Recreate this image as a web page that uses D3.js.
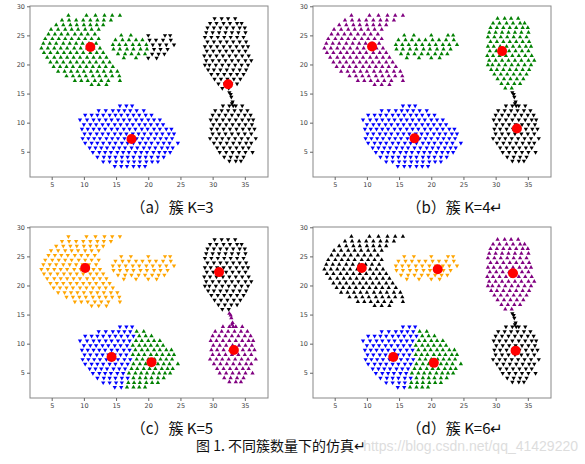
<!DOCTYPE html><html><head><meta charset="utf-8">
<script src="https://cdn.jsdelivr.net/npm/d3@7"></script>
<style>body{margin:0;background:#fff}</style></head><body><svg id="c" width="585" height="464"></svg>
<script>
// rows: [y, x1, x2, ...]
const bottomBlob=[[12.9,15.6,16.6,17.5],[12.1,12.3,13.4,14.5,15.4,16.3,17.2,18.2,19.3],[11.3,10.2,11.2,12.1,13.0,14.0,14.9,15.8,16.8,17.7,18.6,19.6,20.5],[10.5,9.4,10.5,11.5,12.4,13.4,14.3,15.3,16.2,17.1,18.1,19.0,20.0,20.9,21.8],[9.7,10.0,11.0,11.9,12.9,13.8,14.8,15.7,16.7,17.6,18.6,19.5,20.4,21.4,22.3],[8.9,9.7,10.6,11.5,12.4,13.3,14.3,15.2,16.2,17.1,18.0,19.0,19.9,20.9,21.8,22.8,23.6],[8.1,10.1,11.0,12.0,12.9,13.8,14.8,15.7,16.6,17.6,18.5,19.4,20.4,21.3,22.2,23.2,24.0],[7.3,9.8,10.7,11.6,12.5,13.5,14.4,15.3,16.3,17.2,18.2,19.1,20.0,21.0,21.9,22.8,23.7],[6.5,10.2,11.2,12.1,13.0,14.0,14.9,15.9,16.8,17.7,18.7,19.6,20.5,21.5,22.4,23.3,24.6],[5.7,10.9,11.8,12.7,13.6,14.6,15.5,16.4,17.4,18.3,19.3,20.2,21.1,22.1,23.0,23.8],[4.9,11.4,12.4,13.3,14.2,15.2,16.1,17.0,18.0,18.9,19.8,20.8,21.7,22.6,23.4],[4.1,12.1,13.1,14.0,14.9,15.9,16.8,17.7,18.7,19.6,20.5,21.5,22.4],[3.3,13.0,14.0,15.0,15.9,16.9,17.8,18.7,19.7,20.6,21.5],[2.5,14.8,15.8,16.7,17.7,18.6,19.5]];
const topLeft=[[28.4,7.6,10.4,11.8,13.2,14.4,15.6],[27.6,6.6,7.7,8.8,9.9,11.0,12.1,13.1,14.2],[26.8,5.7,6.8,7.9,8.9,10.0,11.0,12.0,13.0],[26.0,4.9,6.0,7.1,8.1,9.1,10.2,11.2,12.3],[25.2,4.5,5.5,6.5,7.5,8.6,9.6,10.6,11.7],[24.4,4.0,5.1,6.1,7.1,8.1,9.2,10.2,11.2,12.3],[23.6,3.7,4.7,5.7,6.8,7.8,8.8,9.8,10.8,11.9],[22.8,3.4,4.4,5.4,6.4,7.4,8.5,9.5,10.5,11.5,12.5],[22.0,3.8,4.8,5.9,6.9,7.9,8.9,9.9,11.0,12.0,13.0],[21.2,4.3,5.4,6.4,7.4,8.4,9.4,10.5,11.5,12.5,13.5],[20.4,4.8,5.8,6.8,7.9,8.9,9.9,10.9,11.9,13.0,14.0],[19.6,5.3,6.3,7.3,8.3,9.4,10.4,11.4,12.4,13.4,14.5],[18.8,6.0,7.0,8.0,9.0,10.0,11.1,12.1,13.1,14.2,15.2],[18.0,7.3,8.3,9.3,10.3,11.4,12.4,13.4,14.4,15.5],[17.2,8.6,9.6,10.6,11.7,12.7,13.8,15.6],[16.5,11.2,12.3,13.5]];
const smallBlob=[[25.0,15.8,17.3,20.0,22.6,23.4],[24.2,14.9,16.0,17.0,18.1,19.1,20.2,21.2,22.3,23.5],[23.4,14.5,15.5,16.5,17.6,18.6,19.7,20.7,21.8,22.8,24.0],[22.6,14.6,15.6,16.7,17.7,18.8,19.8,20.9,21.9,23.0],[21.8,15.3,16.4,17.4,18.5,19.5,20.6,21.6,22.5],[21.1,16.2,18.1,20.0,21.3]];
const topRight=[[27.9,30.3,31.4,32.4,33.5],[27.1,29.6,30.6,31.7,32.7,33.8,34.5],[26.3,29.2,30.2,31.2,32.2,33.2,34.2,35.0],[25.5,29.0,30.0,31.0,32.0,33.0,34.0,35.1],[24.7,28.8,29.8,30.8,31.8,32.8,33.8,34.8],[23.9,29.2,30.2,31.2,32.2,33.2,34.2,35.2],[23.1,28.8,29.7,30.7,31.7,32.7,33.7,34.7,35.5],[22.3,29.1,30.1,31.1,32.1,33.1,34.1,35.1],[21.5,28.7,29.6,30.6,31.6,32.6,33.6,34.6,35.6],[20.7,29.0,30.0,31.0,32.0,33.0,34.0,35.1,36.0],[19.9,28.8,29.5,30.5,31.5,32.5,33.5,34.5,35.5],[19.1,29.3,30.2,31.2,32.2,33.2,34.2,35.2],[18.3,29.8,30.8,31.8,32.8,33.8,34.8],[17.5,30.3,31.3,32.3,33.3,34.3],[16.7,30.9,31.9,32.9,33.8],[15.9,31.5,32.5]];
const bridge=[[15.2,32.6],[14.9,32.8],[14.4,32.9],[13.6,33.1],[13.3,33.0],[12.9,33.2]];
const bottomRight=[[12.9,31.6,32.6,33.6,34.6],[12.1,30.4,31.4,32.4,33.4,34.4,35.4],[11.3,30.0,31.0,32.0,33.0,34.0,35.0,35.9],[10.5,29.7,30.6,31.6,32.6,33.6,34.6,35.6,36.3],[9.7,30.1,31.1,32.1,33.1,34.1,35.1,36.1],[8.9,29.8,30.7,31.7,32.7,33.7,34.7,35.7,36.5],[8.1,30.0,31.0,32.0,33.0,34.0,35.0,36.0],[7.3,29.6,30.6,31.5,32.5,33.5,34.5,35.5,36.7],[6.5,30.2,31.2,32.2,33.2,34.2,35.2,36.0],[5.7,30.7,31.7,32.7,33.7,34.7,35.6],[4.9,31.1,32.1,33.1,34.1,35.1,36.2],[4.1,31.8,32.8,33.8,34.8],[3.4,32.6,33.6,34.4]];
const xTicks=[5,10,15,20,25,30,35];
const yTicks=[5,10,15,20,25,30];
const captions=["（a）簇 K=3","（b）簇 K=4↵","（c）簇 K=5","（d）簇 K=6↵"];
const centersK3=[[11,23],[17.4,7.2],[32.4,16.6]];
const centersK4=[[10.8,23.1],[17.4,7.3],[31,22.3],[33.3,9]];
const centersK5=[[10.2,23],[14.3,7.7],[20.5,6.8],[31,22.3],[33.3,8.9]];
const centersK6=[[9.2,23],[21,22.8],[14.1,7.7],[20.4,6.7],[32.7,22.1],[33.1,8.8]];
const styles=[
 {tl:["green","up"],smL:["green","up"],smR:["black","down"],tr:["black","down"],br:["black","down"],bg:["black","down"],bL:["blue","down"],bR:["blue","down"]},
 {tl:["purple","up"],smL:["green","up"],smR:["green","up"],tr:["green","up"],br:["black","down"],bg:["black","down"],bL:["blue","down"],bR:["blue","down"]},
 {tl:["orange","down"],smL:["orange","down"],smR:["orange","down"],tr:["black","down"],br:["purple","up"],bg:["purple","up"],bL:["blue","down"],bR:["green","up"]},
 {tl:["black","up"],smL:["orange","down"],smR:["orange","down"],tr:["purple","up"],br:["black","down"],bg:["black","down"],bL:["blue","down"],bR:["green","up"]}];
const centers=[centersK3,centersK4,centersK5,centersK6];
const panels=[[30,6],[313,6],[30,227],[313,227]];
const W=238,H=171;
function flat(rows){const o=[];rows.forEach(r=>{for(let i=1;i<r.length;i++)o.push([r[i],r[0]]);});return o;}
const svg=d3.select("#c");
const x=d3.scaleLinear().domain([1.63,38.6]).range([0,W]);
const y=d3.scaleLinear().domain([0.66,30.05]).range([H,0]);
const tri=d3.symbol().type(d3.symbolTriangle).size(8);
panels.forEach((p,i)=>{
 const g=svg.append("g").attr("transform",`translate(${p[0]},${p[1]})`);
 const st=styles[i];
 const pts=[];
 flat(topLeft).forEach(d=>pts.push([d,st.tl]));
 flat(smallBlob).forEach(d=>pts.push([d,d[0]<20?st.smL:st.smR]));
 flat(topRight).forEach(d=>pts.push([d,st.tr]));
 flat(bridge).forEach(d=>pts.push([d,st.bg]));
 flat(bottomRight).forEach(d=>pts.push([d,st.br]));
 flat(bottomBlob).forEach(d=>pts.push([d,d[0]<17.2+(d[1]-7)*0.12?st.bL:st.bR]));
 g.selectAll("path.pt").data(pts).join("path").attr("d",tri)
  .attr("transform",d=>`translate(${x(d[0][0])},${y(d[0][1])}) rotate(${d[1][1]=="down"?180:0})`)
  .attr("fill",d=>d[1][0]);
 g.selectAll("circle").data(centers[i]).join("circle").attr("cx",d=>x(d[0])).attr("cy",d=>y(d[1])).attr("r",5).attr("fill","red");
 g.append("rect").attr("width",W).attr("height",H).attr("fill","none").attr("stroke","#888");
 const ax=g.append("g").attr("transform",`translate(0,${H})`).call(d3.axisBottom(x).tickValues(xTicks).tickSize(3).tickPadding(2));
 const ay=g.append("g").call(d3.axisLeft(y).tickValues(yTicks).tickSize(3).tickPadding(2));
 [ax,ay].forEach(a=>{a.select(".domain").remove();a.selectAll("line").attr("stroke","#666");a.selectAll("text").attr("font-size",6.5).attr("fill","#444").attr("font-family","DejaVu Sans");});
 svg.append("text").attr("x",p[0]+142).attr("y",p[1]+H+36).attr("text-anchor","middle")
  .attr("font-family","Noto Sans CJK SC").attr("font-size",15).attr("fill","#111").text(captions[i]);
});
svg.append("text").attr("x",196).attr("y",451).attr("font-family","Noto Sans CJK SC").attr("font-size",14).attr("fill","#111").text("图 1. 不同簇数量下的仿真↵");
svg.append("text").attr("x",578).attr("y",451).attr("text-anchor","end").attr("font-family","Arial, Liberation Sans").attr("font-size",14).attr("fill","#ddd").text("https://blog.csdn.net/qq_41429220");
</script></body></html>
